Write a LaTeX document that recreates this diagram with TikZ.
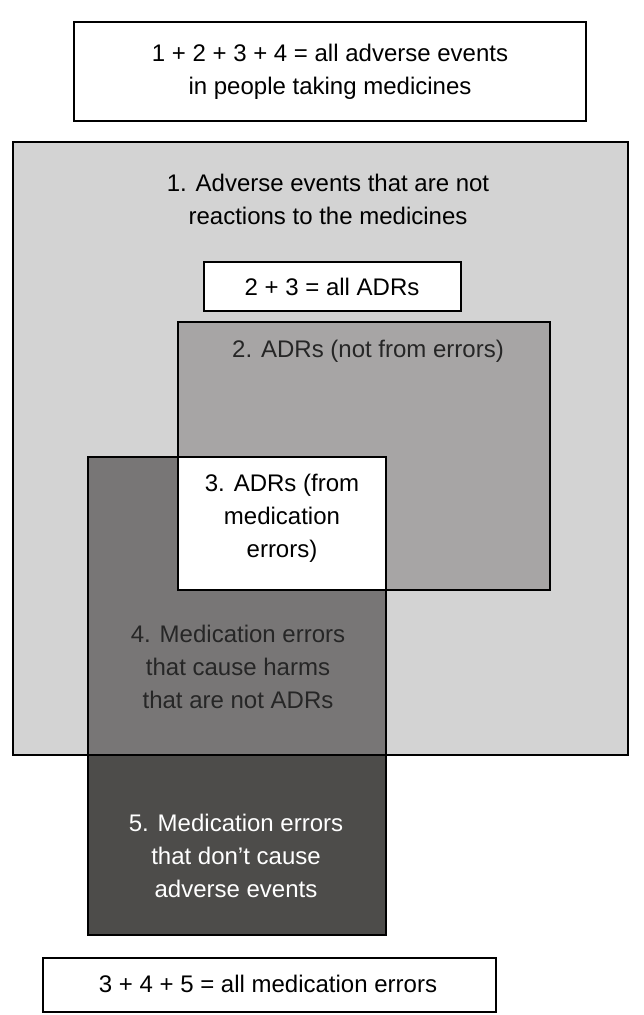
\documentclass[tikz,border=0pt]{standalone}
\usepackage{fontspec}
\setmainfont{Liberation Sans}
\begin{document}
\begin{tikzpicture}[x=1pt,y=-1pt,
 bx/.style={draw=black,line width=1.3pt},
 txt/.style={align=center,font=\fontsize{24}{33}\selectfont,inner sep=0pt}]
\useasboundingbox (0,0) rectangle (643,1015);
\definecolor{c1}{HTML}{D3D3D3}
\definecolor{c2}{HTML}{A7A5A5}
\definecolor{c4}{HTML}{787676}
\definecolor{c5}{HTML}{4D4C4A}
\path[bx,fill=white] (74,22) rectangle (586,121);
\node[txt] (t0) at (330,72) {1 + 2 + 3 + 4 = all adverse events\\in people taking medicines};
\path[bx,fill=c1] (13,142) rectangle (628,755);
\node[txt] (t1) at (328,199) {1. Adverse events that are not\\reactions to the medicines};
\path[bx,fill=white] (204,262) rectangle (461,311);
\node[txt] (t23) at (332,287) {2 + 3 = all ADRs};
\path[bx,fill=c2] (178,322) rectangle (550,590);
\node[txt,text=black!85] (t2) at (368,351) {2. ADRs (not from errors)};
\path[bx,fill=c5] (88,755) rectangle (386,935);
\path[bx,fill=c4] (88,457) rectangle (386,755);
\path[bx,fill=white] (178,457) rectangle (386,590);
\node[txt] (t3) at (282,518) {3. ADRs (from\\medication\\errors)};
\node[txt,text=black!85] (t4) at (238,667) {4. Medication errors\\that cause harms\\that are not ADRs};
\node[txt,text=white] (t5) at (236,856) {5. Medication errors\\that don’t cause\\adverse events};
\draw[line width=1.3pt] (13,755) -- (628,755);
\path[bx,fill=white] (43,958) rectangle (496,1012);
\node[txt] (tb) at (268,984) {3 + 4 + 5 = all medication errors};
\end{tikzpicture}
\end{document}
